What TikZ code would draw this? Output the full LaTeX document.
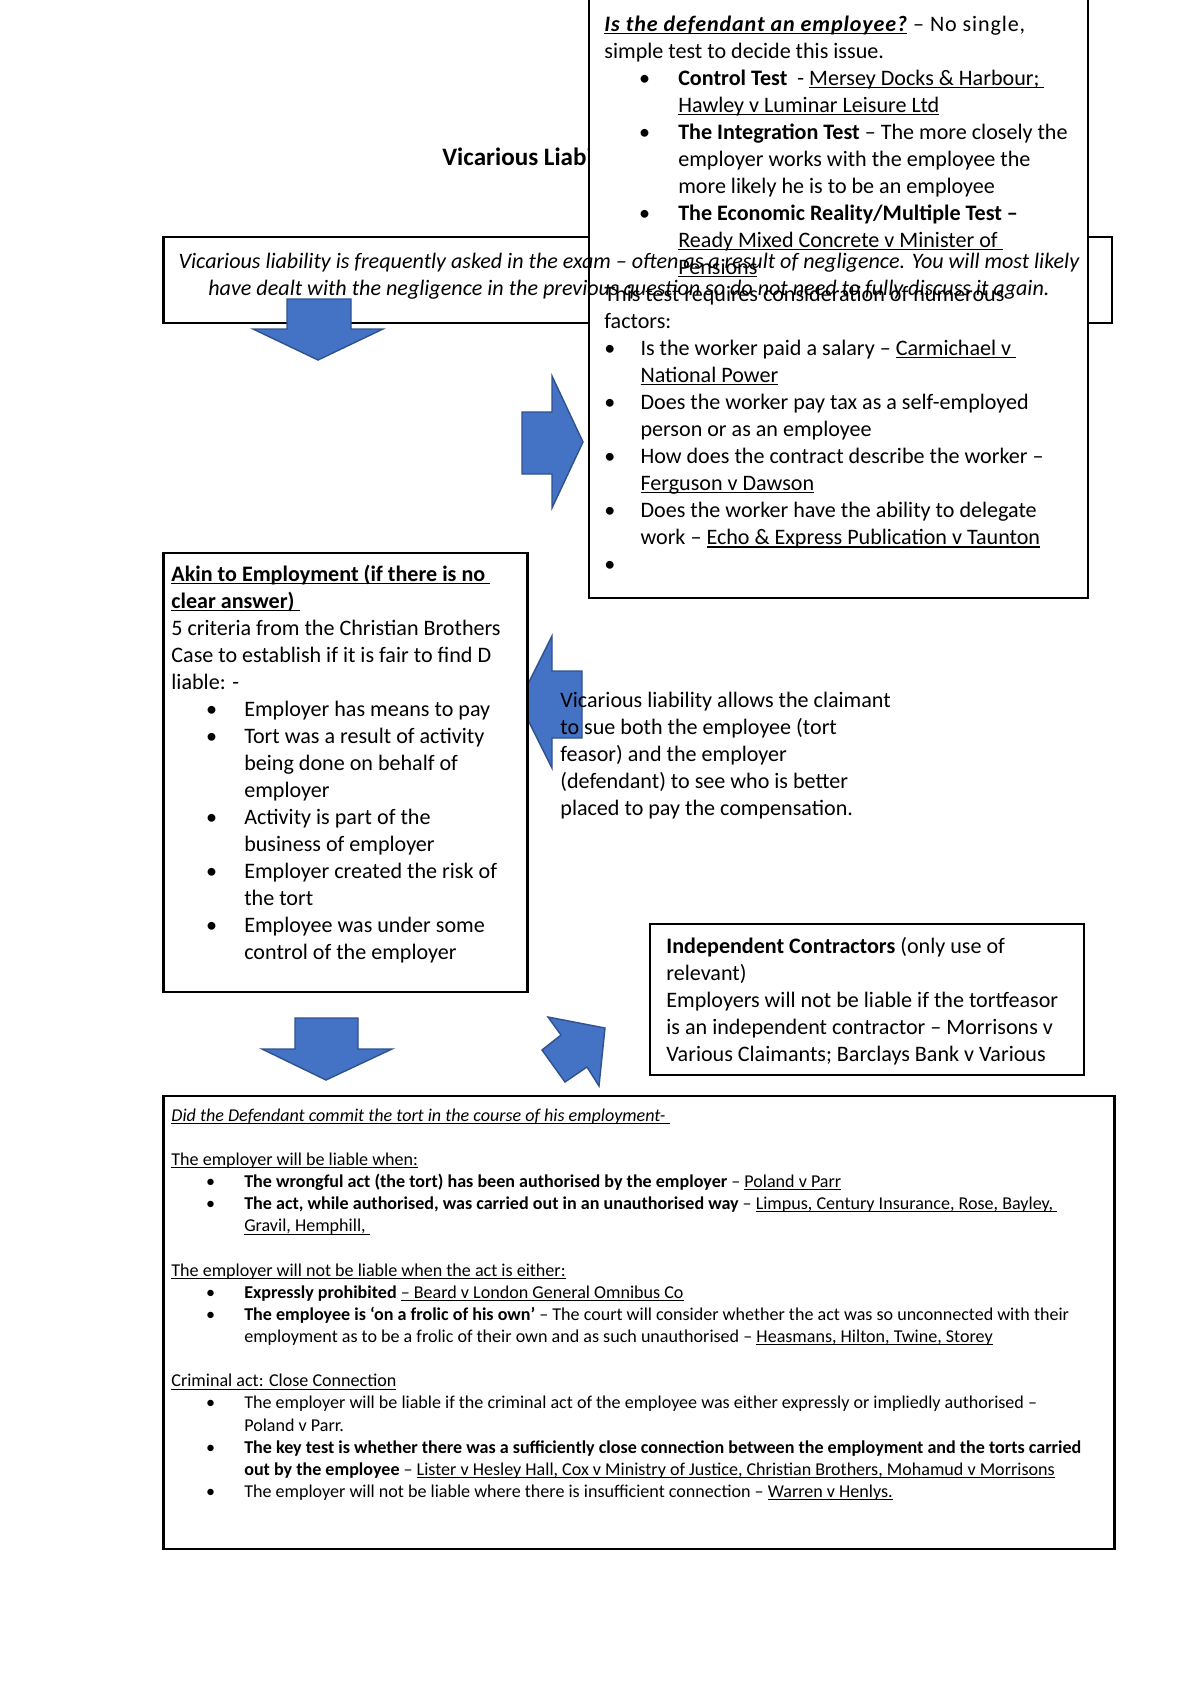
\documentclass[tikz,border=0pt]{standalone}
\usepackage{fontspec}
\setmainfont{Carlito}
\usetikzlibrary{fit}

\definecolor{arrowblue}{HTML}{4472C4}
\definecolor{arrowedge}{HTML}{2F528F}

\newcommand{\bul}[3]{\hspace*{#1}\makebox[#2][l]{\textbullet}#3}
\newcommand{\cnt}[2]{\hspace*{#1}#2}
\newcommand{\undl}[1]{\setbox0\hbox{#1}\rlap{\rule[-1.4pt]{\wd0}{0.5pt}}\box0}

\begin{document}
\begin{tikzpicture}[x=0.0175cm,y=-0.0175cm,
  frame/.style={draw,line width=1.1pt,fill=white,inner sep=0pt},
  blockarrow/.style={fill=arrowblue,draw=arrowedge,line width=0.7pt,line join=miter},
  txt/.style={anchor=base west,inner sep=0pt,font=\fontsize{11}{13.45}\selectfont},
  small/.style={anchor=base west,inner sep=0pt,font=\fontsize{9}{11.03}\selectfont}]
\path[use as bounding box,fill=white] (0,0) rectangle (1200,1698);

% heading, half hidden by the test box
\node[txt,font=\fontsize{12.5}{15}\selectfont\bfseries] (title) at (442,165) {Vicarious Liability};
\node[frame,fill=none,fit={(163.5,237) (1112,323)}] (examnote) {};

% employee tests
\node[frame,fit={(589,-20) (1088,598)}] (testbox) {};
\node[txt] (tests) at (604,31.5) {\parbox[t]{600pt}{%
{\addfontfeature{LetterSpace=4}\textbf{\textit{\undl{Is the defendant an employee?}}} – No single,}\\
simple test to decide this issue.\\
\bul{17.3pt}{19.5pt}{\textbf{Control Test} \ - \undl{Mersey Docks \& Harbour; }}\\
\cnt{36.8pt}{\undl{Hawley v Luminar Leisure Ltd}}\\
\bul{17.3pt}{19.5pt}{\textbf{The Integration Test} – The more closely the}\\
\cnt{36.8pt}{employer works with the employee the}\\
\cnt{36.8pt}{more likely he is to be an employee}\\
\bul{17.3pt}{19.5pt}{\textbf{The Economic Reality/Multiple Test –}}\\
\cnt{36.8pt}{\undl{Ready Mixed Concrete v Minister of }}\\
\cnt{36.8pt}{\undl{Pensions}}\\
This test requires consideration of numerous\\
factors:\\
\bul{0pt}{18pt}{Is the worker paid a salary – \undl{Carmichael v }}\\
\cnt{18pt}{\undl{National Power}}\\
\bul{0pt}{18pt}{Does the worker pay tax as a self-employed}\\
\cnt{18pt}{person or as an employee}\\
\bul{0pt}{18pt}{How does the contract describe the worker –}\\
\cnt{18pt}{\undl{Ferguson v Dawson}}\\
\bul{0pt}{18pt}{Does the worker have the ability to delegate}\\
\cnt{18pt}{work – \undl{Echo \& Express Publication v Taunton}}\\
\bul{0pt}{18pt}{}}};

% exam note text sits on top of everything
\node[txt,anchor=base,font=\fontsize{11}{13.45}\selectfont\itshape] (examtext) at (629,268) {\parbox[t]{520pt}{\centering
Vicarious liability is frequently asked in the exam – often as a result of negligence. You will most likely\\
have dealt with the negligence in the previous question so do not need to fully discuss it again.}};

\draw[blockarrow] (287,299) -- (351,299) -- (351,329) -- (383,329) -- (318,360) -- (253,329) -- (287,329) -- cycle;
\draw[blockarrow] (522,412) -- (552,412) -- (552,376) -- (583,442) -- (552,508) -- (552,474) -- (522,474) -- cycle;
\draw[blockarrow] (582,671) -- (552,671) -- (552,636) -- (519,702) -- (552,768) -- (552,738) -- (582,738) -- cycle;

% akin to employment
\node[frame,fit={(163.5,553) (527.5,992)}] (akinbox) {};
\node[txt] (akin) at (171,581) {\parbox[t]{400pt}{%
\textbf{\undl{Akin to Employment (if there is no }}\\
\textbf{\undl{clear answer) }}\\
5 criteria from the Christian Brothers\\
Case to establish if it is fair to find D\\
liable: -\\
\bul{17.3pt}{19pt}{Employer has means to pay}\\
\bul{17.3pt}{19pt}{Tort was a result of activity}\\
\cnt{36.3pt}{being done on behalf of}\\
\cnt{36.3pt}{employer}\\
\bul{17.3pt}{19pt}{Activity is part of the}\\
\cnt{36.3pt}{business of employer}\\
\bul{17.3pt}{19pt}{Employer created the risk of}\\
\cnt{36.3pt}{the tort}\\
\bul{17.3pt}{19pt}{Employee was under some}\\
\cnt{36.3pt}{control of the employer}}};

\node[txt] (claimant) at (560,707) {\parbox[t]{400pt}{%
Vicarious liability allows the claimant\\
to sue both the employee (tort\\
feasor) and the employer\\
(defendant) to see who is better\\
placed to pay the compensation.}};

% independent contractors
\node[frame,fit={(650,924) (1084,1075)}] (indbox) {};
\node[txt] (ind) at (666,953) {\parbox[t]{400pt}{%
\textbf{Independent Contractors} (only use of\\
relevant)\\
Employers will not be liable if the tortfeasor\\
is an independent contractor – Morrisons v\\
Various Claimants; Barclays Bank v Various}};

\draw[blockarrow] (295,1018) -- (358,1018) -- (358,1049) -- (392,1049) -- (326,1080) -- (262,1049) -- (295,1049) -- cycle;
\draw[blockarrow] (548,1017) -- (605,1028) -- (599,1086) -- (587,1067) -- (565,1082) -- (542,1050) -- (561,1035) -- cycle;

% course of employment
\node[frame,fit={(163.5,1096) (1114.5,1549)}] (coursebox) {};
\node[small] (course) at (171,1121) {\parbox[t]{700pt}{%
\textit{\undl{Did the Defendant commit the tort in the course of his employment- }}\\[11.03pt]
\undl{The employer will be liable when:}\\
\bul{17.3pt}{19pt}{\textbf{The wrongful act (the tort) has been authorised by the employer} – \undl{Poland v Parr}}\\
\bul{17.3pt}{19pt}{\textbf{The act, while authorised, was carried out in an unauthorised way} – \undl{Limpus, Century Insurance, Rose, Bayley, }}\\
\cnt{36.3pt}{\undl{Gravil, Hemphill, }}\\[11.03pt]
\undl{The employer will not be liable when the act is either:}\\
\bul{17.3pt}{19pt}{\textbf{Expressly prohibited} \undl{– Beard v London General Omnibus Co}}\\
\bul{17.3pt}{19pt}{\textbf{The employee is ‘on a frolic of his own’} – The court will consider whether the act was so unconnected with their}\\
\cnt{36.3pt}{employment as to be a frolic of their own and as such unauthorised – \undl{Heasmans, Hilton, Twine, Storey}}\\[11.03pt]
\undl{Criminal act: Close Connection}\\
\bul{17.3pt}{19pt}{The employer will be liable if the criminal act of the employee was either expressly or impliedly authorised –}\\
\cnt{36.3pt}{Poland v Parr.}\\
\bul{17.3pt}{19pt}{\textbf{The key test is whether there was a sufficiently close connection between the employment and the torts carried}}\\
\cnt{36.3pt}{\textbf{out by the employee} – \undl{Lister v Hesley Hall, Cox v Ministry of Justice, Christian Brothers, Mohamud v Morrisons}}\\
\bul{17.3pt}{19pt}{The employer will not be liable where there is insufficient connection – \undl{Warren v Henlys.}}}};
\end{tikzpicture}
\end{document}
